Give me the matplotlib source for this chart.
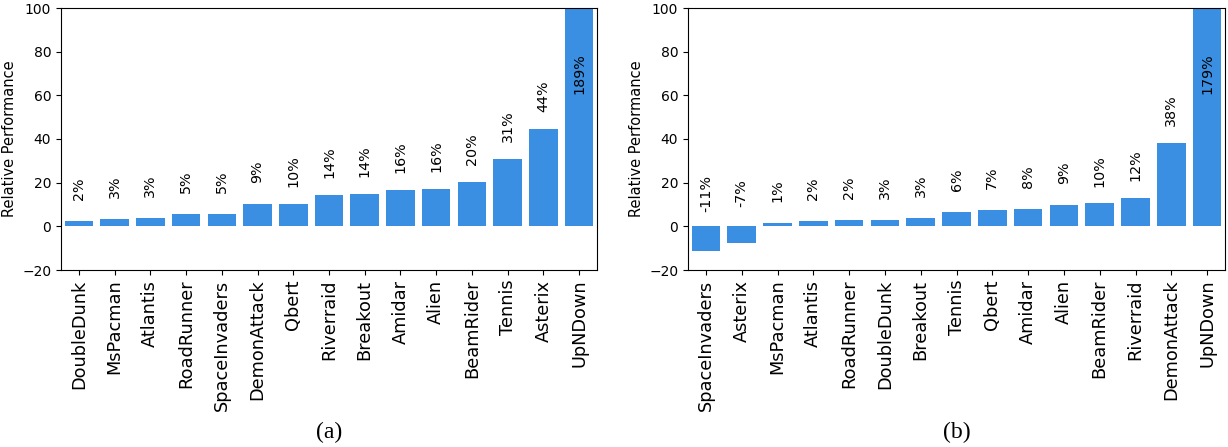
import matplotlib
matplotlib.use("Agg")
import matplotlib.pyplot as plt

# (a)
games_a = ["DoubleDunk", "MsPacman", "Atlantis", "RoadRunner", "SpaceInvaders",
           "DemonAttack", "Qbert", "Riverraid", "Breakout", "Amidar", "Alien",
           "BeamRider", "Tennis", "Asterix", "UpNDown"]
vals_a = [2.3, 3.2, 3.6, 5.5, 5.5, 10.1, 10.1, 14.2, 14.7, 16.5, 17.0, 20.2, 30.7, 44.5, 189.0]
labels_a = ["2%", "3%", "3%", "5%", "5%", "9%", "10%", "14%", "14%", "16%", "16%",
            "20%", "31%", "44%", "189%"]

# (b)
games_b = ["SpaceInvaders", "Asterix", "MsPacman", "Atlantis", "RoadRunner",
           "DoubleDunk", "Breakout", "Tennis", "Qbert", "Amidar", "Alien",
           "BeamRider", "Riverraid", "DemonAttack", "UpNDown"]
vals_b = [-11.3, -7.6, 1.4, 2.4, 2.9, 2.9, 3.7, 6.4, 7.3, 7.8, 9.6, 10.5, 12.8, 38.0, 179.0]
labels_b = ["-11%", "-7%", "1%", "2%", "2%", "3%", "3%", "6%", "7%", "8%", "9%",
            "10%", "12%", "38%", "179%"]

color = "#3b8fe2"

fig = plt.figure(figsize=(12.28, 4.47), dpi=100)
ax1 = fig.add_axes([61/1228, 1 - 270/447, 536/1228, 262/447])
ax2 = fig.add_axes([688/1228, 1 - 270/447, 537/1228, 262/447])

for ax, games, vals, labels, cap in [(ax1, games_a, vals_a, labels_a, "(a)"),
                                      (ax2, games_b, vals_b, labels_b, "(b)")]:
    x = list(range(len(games)))
    ax.bar(x, vals, width=0.8, color=color)
    for xi, v, lab in zip(x, vals, labels):
        ax.text(xi, min(max(v, 0) + 15, 70), lab, rotation=90,
                ha="center", va="center", fontsize=10.3)
    ax.set_xlim(-0.5, len(games) - 0.5)
    ax.set_ylim(-20, 100)
    ax.set_xticks(x)
    ax.set_xticklabels(games, rotation=90, fontsize=12.8)
    ax.set_yticks([-20, 0, 20, 40, 60, 80, 100])
    ax.tick_params(axis="y", labelsize=10)
    ax.set_ylabel("Relative Performance", fontsize=10.5)
    bb = ax.get_position()
    fig.text((bb.x0 + bb.x1) / 2, 1 - 432/447, cap, ha="center", va="center",
             fontsize=17, family="Liberation Serif")

fig.savefig("out.png", dpi=100)
